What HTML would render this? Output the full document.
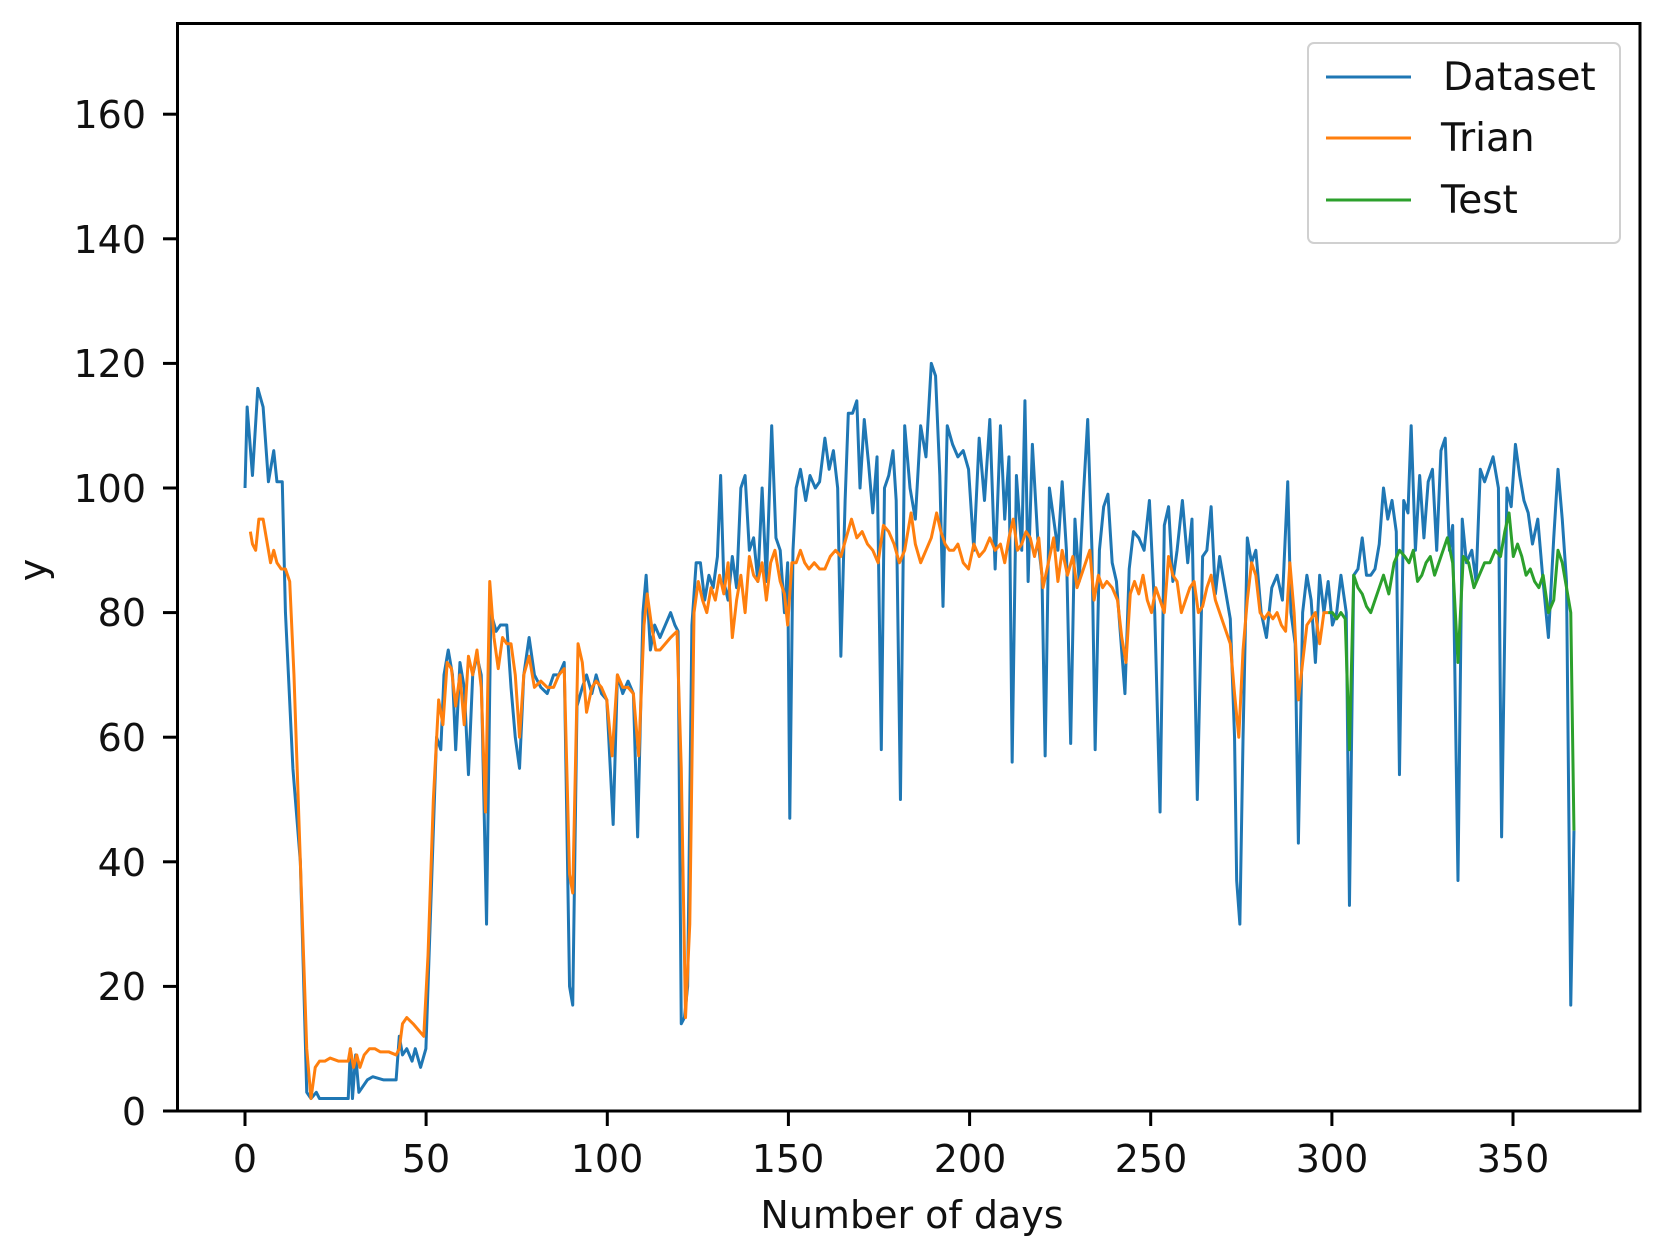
<!DOCTYPE html>
<html><head><meta charset="utf-8"><style>html,body{margin:0;padding:0;background:#fff}svg{display:block}</style></head>
<body>
<svg width="1665" height="1257" viewBox="0 0 1665 1257" xmlns="http://www.w3.org/2000/svg" font-family="DejaVu Sans, Liberation Sans, sans-serif">
<rect width="1665" height="1257" fill="#fff"/>
<g transform="matrix(1.064,0,0,-6.23,0.3,1111)" fill="none" stroke-linejoin="round">
<polyline vector-effect="non-scaling-stroke" stroke="#1f77b4" stroke-width="3" points="230,100 232,113 237,102 242,116 247,113 252,101 257,106 260,101 265,101 268,80 275,55 282,40 288,3 292,2 297,3 300,2 327,2 329,10 331,2 334,9 337,3 345,5 350,5.5 360,5 372,5 375,12 378,9 382,10 387,8 390,10 395,7 400,10 406,40 410,60 414,58 417,70 421,74 425,70 428,58 432,72 436,68 440,54 444,70 448,73 452,70 457,30 461,80 466,77 470,78 476,78 480,68 484,60 488,55 492,70 497,76 502,70 508,68 514,67 520,70 525,70 530,72 535,20 538,17 542,65 547,68 551,70 556,67 560,70 565,67 570,66 576,46 580,70 585,67 590,69 595,67 599,44 604,80 607,86 611,74 615,78 620,76 625,78 630,80 634,78 637,77 640,14 643,15 646,20 650,78 654,88 658,88 662,82 666,86 670,84 674,89 677,102 680,85 684,82 688,89 692,84 696,100 700,102 704,90 708,92 712,85 716,100 720,85 725,110 729,92 733,90 737,80 740,88 742,47 745,90 748,100 752,103 757,98 761,102 766,100 770,101 775,108 779,103 783,106 787,100 790,73 794,98 797,112 801,112 805,114 808,100 812,111 816,104 820,96 824,105 828,58 831,100 835,102 839,106 842,98 846,50 850,110 855,100 860,95 865,110 870,105 875,120 879,118 883,102 886,81 890,110 895,107 900,105 905,106 910,103 915,90 920,108 925,98 930,111 935,87 940,110 944,95 948,105 951,56 955,102 960,90 963,114 966,85 970,107 975,92 979,86 982,57 986,100 990,95 994,90 998,101 1002,90 1006,59 1010,95 1014,85 1018,99 1022,111 1026,90 1029,58 1033,90 1037,97 1041,99 1045,88 1049,85 1053,76 1057,67 1061,87 1065,93 1070,92 1075,90 1080,98 1085,80 1090,48 1094,94 1098,97 1102,85 1106,90 1111,98 1116,88 1120,95 1125,50 1130,89 1134,90 1138,97 1142,83 1146,89 1150,85 1156,79 1160,60 1162,37 1165,30 1168,60 1172,92 1176,88 1180,90 1185,80 1190,76 1195,84 1200,86 1205,82 1210,101 1213,80 1217,75 1220,43 1224,80 1228,86 1232,82 1236,72 1240,86 1244,80 1248,85 1252,78 1256,80 1260,86 1265,80 1268,33 1272,86 1276,87 1280,92 1284,86 1288,86 1292,87 1296,91 1300,100 1304,95 1308,98 1312,93 1315,54 1319,98 1323,96 1326,110 1330,90 1334,102 1338,92 1342,101 1346,103 1350,90 1354,106 1358,108 1362,90 1365,94 1370,37 1374,95 1378,88 1383,90 1387,85 1391,103 1395,101 1399,103 1403,105 1408,100 1411,44 1416,100 1420,97 1424,107 1428,102 1432,98 1436,96 1440,91 1445,95 1450,85 1455,76 1460,92 1464,103 1468,95 1472,85 1476,17 1479,45"/>
<polyline vector-effect="non-scaling-stroke" stroke="#ff7f0e" stroke-width="3" points="235,93 237,91 240,90 243,95 247,95 250,92 254,88 257,90 260,88 264,87 268,87 272,85 276,70 282,40 288,10 292,2 296,7 300,8 305,8 310,8.5 318,8 327,8 329,10 332,7 335,9 338,7 342,9 347,10 352,10 357,9.5 365,9.5 372,9 375,10 378,14 382,15 388,14 393,13 398,12 402,25 407,50 412,66 416,62 420,72 424,71 428,65 432,70 436,62 440,73 444,70 448,74 452,68 456,48 460,85 464,76 468,71 472,76 476,75 480,75 484,70 488,60 492,70 497,73 502,68 508,69 514,68 520,68 525,70 530,71 535,38 538,35 543,75 547,72 551,64 556,68 560,69 565,68 570,66 575,57 580,70 585,68 590,68 595,67 600,57 605,78 608,83 612,78 616,74 620,74 625,75 630,76 636,77 640,55 644,15 648,30 652,80 656,85 660,82 664,80 668,84 672,82 676,86 680,83 684,88 688,76 692,82 696,86 700,80 704,89 708,86 712,85 716,88 720,82 724,88 728,90 733,85 737,83 740,78 744,88 748,88 752,90 756,88 760,87 765,88 770,87 775,87 780,89 785,90 790,89 795,92 800,95 805,92 810,93 815,91 820,90 825,88 830,94 835,93 840,91 845,88 850,90 856,96 860,91 865,88 870,90 875,92 880,96 884,93 888,91 892,90 896,90 900,91 905,88 910,87 915,91 920,89 925,90 930,92 935,90 940,91 944,88 948,92 952,95 956,90 960,91 964,93 968,92 972,89 976,92 980,84 985,88 990,92 994,85 998,90 1003,86 1008,89 1012,84 1016,86 1020,88 1024,90 1028,82 1032,86 1036,84 1040,85 1045,84 1050,82 1054,76 1058,72 1062,83 1066,85 1070,83 1074,86 1078,82 1082,80 1086,84 1090,82 1094,80 1098,89 1102,86 1106,85 1110,80 1114,82 1118,84 1122,85 1126,80 1130,81 1134,84 1138,86 1142,82 1146,80 1150,78 1156,75 1160,67 1164,60 1168,74 1172,82 1176,88 1180,86 1184,80 1188,79 1192,80 1196,79 1200,80 1204,78 1208,77 1212,88 1216,80 1220,66 1224,72 1228,78 1232,79 1236,80 1240,75 1244,80 1248,80"/>
<polyline vector-effect="non-scaling-stroke" stroke="#2ca02c" stroke-width="3" points="1248,80 1252,80 1256,79 1260,80 1264,79 1268,58 1272,86 1276,84 1280,83 1284,81 1288,80 1292,82 1296,84 1300,86 1305,83 1310,88 1315,90 1320,89 1324,88 1328,90 1332,85 1336,86 1340,88 1344,89 1348,86 1352,88 1356,90 1360,92 1365,88 1370,72 1375,89 1380,88 1385,84 1390,86 1395,88 1400,88 1405,90 1410,89 1414,93 1418,96 1422,89 1426,91 1430,89 1434,86 1438,87 1442,85 1446,84 1450,86 1455,80 1460,82 1464,90 1468,88 1472,84 1476,80 1479,45"/>
</g>
<rect x="177.5" y="23.5" width="1462.5" height="1087.5" fill="none" stroke="#000" stroke-width="3"/>
<g stroke="#000" stroke-width="3">
<line x1="163" y1="1111" x2="177" y2="1111"/><line x1="163" y1="986.4" x2="177" y2="986.4"/><line x1="163" y1="861.8" x2="177" y2="861.8"/><line x1="163" y1="737.2" x2="177" y2="737.2"/><line x1="163" y1="612.6" x2="177" y2="612.6"/><line x1="163" y1="488" x2="177" y2="488"/><line x1="163" y1="363.4" x2="177" y2="363.4"/><line x1="163" y1="238.8" x2="177" y2="238.8"/><line x1="163" y1="114.2" x2="177" y2="114.2"/>
<line x1="245" y1="1111" x2="245" y2="1126"/><line x1="426.1" y1="1111" x2="426.1" y2="1126"/><line x1="607.3" y1="1111" x2="607.3" y2="1126"/><line x1="788.4" y1="1111" x2="788.4" y2="1126"/><line x1="969.6" y1="1111" x2="969.6" y2="1126"/><line x1="1150.7" y1="1111" x2="1150.7" y2="1126"/><line x1="1331.9" y1="1111" x2="1331.9" y2="1126"/><line x1="1513" y1="1111" x2="1513" y2="1126"/>
</g>
<g font-size="38" fill="#111" text-anchor="end">
<text x="146" y="1125">0</text><text x="146" y="1000">20</text><text x="146" y="876">40</text><text x="146" y="751">60</text><text x="146" y="626">80</text><text x="146" y="502">100</text><text x="146" y="377">120</text><text x="146" y="253">140</text><text x="146" y="128">160</text>
</g>
<g font-size="38" fill="#111" text-anchor="middle">
<text x="245" y="1172">0</text><text x="426" y="1172">50</text><text x="607" y="1172">100</text><text x="788" y="1172">150</text><text x="970" y="1172">200</text><text x="1151" y="1172">250</text><text x="1332" y="1172">300</text><text x="1513" y="1172">350</text>
<text x="912" y="1228">Number of days</text>
<text transform="translate(46,570) rotate(-90)">y</text>
</g>
<rect x="1308" y="43" width="312" height="200" rx="6" fill="#fff" fill-opacity="0.8" stroke="#d0d0d0" stroke-width="2"/>
<line x1="1326" y1="77" x2="1411" y2="77" stroke="#1f77b4" stroke-width="3"/>
<line x1="1326" y1="138" x2="1411" y2="138" stroke="#ff7f0e" stroke-width="3"/>
<line x1="1326" y1="200" x2="1411" y2="200" stroke="#2ca02c" stroke-width="3"/>
<g font-size="39" fill="#111">
<text x="1443" y="90">Dataset</text><text x="1441" y="151">Trian</text><text x="1441" y="213">Test</text>
</g>
</svg>
</body></html>
